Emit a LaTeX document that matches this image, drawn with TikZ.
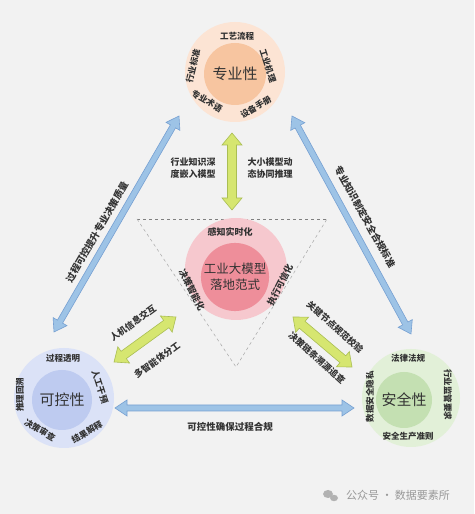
\documentclass[tikz,border=0pt]{standalone}
\usepackage{fontspec}
\setmainfont{Noto Sans CJK SC}
\usetikzlibrary{calc,positioning}

\definecolor{bg}{RGB}{242,242,242}
\definecolor{specout}{RGB}{252,228,212}
\definecolor{specin}{RGB}{247,197,160}
\definecolor{ctrlout}{RGB}{219,226,247}
\definecolor{ctrlin}{RGB}{190,203,240}
\definecolor{safeout}{RGB}{226,240,216}
\definecolor{safein}{RGB}{196,224,178}
\definecolor{coreout}{RGB}{246,200,206}
\definecolor{corein}{RGB}{238,142,154}
\definecolor{bluefill}{RGB}{157,195,230}
\definecolor{blueline}{RGB}{118,160,210}
\definecolor{greenfill}{RGB}{214,230,112}
\definecolor{greenline}{RGB}{170,190,84}
\definecolor{txt}{RGB}{51,51,51}

% block double arrow: [style]{from}{to}{half shaft}{half head}{head length}
\newcommand{\fatarrow}[6][]{%
  \coordinate (#2-#3-a) at ($(#2)!#6!(#3)$);
  \coordinate (#2-#3-b) at ($(#3)!#6!(#2)$);
  \draw[#1] (#2) -- ($(#2-#3-a)!#5!90:(#3)$) -- ($(#2-#3-a)!#4!90:(#3)$)
    -- ($(#2-#3-b)!#4!-90:(#2)$) -- ($(#2-#3-b)!#5!-90:(#2)$) -- (#3)
    -- ($(#2-#3-b)!#5!90:(#2)$) -- ($(#2-#3-b)!#4!90:(#2)$)
    -- ($(#2-#3-a)!#4!-90:(#3)$) -- ($(#2-#3-a)!#5!-90:(#3)$) -- cycle;}

\begin{document}
\begin{tikzpicture}[x=1pt, y=1pt,
    ring/.style={circle, inner sep=0pt},
    core/.style={circle, inner sep=0pt, text=txt, align=center, font=\fontsize{15}{18}\selectfont},
    tag/.style={text=txt, inner sep=0pt, font=\bfseries\fontsize{8.5}{10}\selectfont},
    note/.style={text=txt, inner sep=0pt, align=center, font=\bfseries\fontsize{9}{12}\selectfont},
    link/.style={text=txt, inner sep=0pt, font=\bfseries\fontsize{9.5}{11}\selectfont},
    bluearrow/.style={fill=bluefill, draw=blueline, line width=0.6pt, line join=miter},
    greenarrow/.style={fill=greenfill, draw=greenline, line width=0.6pt, line join=miter}]
    \fill[bg] (0,0) rectangle (474,514);
    \useasboundingbox (0,0) rectangle (474,514);

    % dashed triangle
    \coordinate (tl) at (137,295);
    \coordinate (tr) at (327,295);
    \coordinate (tb) at (236,147);
    \draw[gray, dashed, line width=0.6pt] (tl) -- (tr);
    \draw[gray!70, dashed, line width=0.5pt] (tl) -- (tb) -- (tr);

    % four circles
    \node[ring, fill=specout, minimum size=100pt] (spec) at (235,442) {};
    \node[core, fill=specin, minimum size=62pt] (specc) at (235,440) {专业性};
    \node[ring, fill=ctrlout, minimum size=100pt] (ctrl) at (64,116) {};
    \node[core, fill=ctrlin, minimum size=60pt] (ctrlc) at (62,114) {可控性};
    \node[ring, fill=safeout, minimum size=98pt] (safe) at (411,116) {};
    \node[core, fill=safein, minimum size=56pt] (safec) at (404,114) {安全性};
    \node[ring, fill=coreout, minimum size=102pt] (mid) at (236,245) {};
    \node[core, fill=corein, minimum size=64pt, font=\fontsize{12.5}{16}\selectfont] (midc) at (235,237) {工业大模型\\落地范式};

    % ring labels
    \node[tag] (s1) at (237,478) {工艺流程};
    \node[tag, rotate=-72] (s2) at (268,448) {工业机理};
    \node[tag, rotate=30] (s3) at (256,407) {设备手册};
    \node[tag, rotate=-30] (s4) at (207,413) {专业术语};
    \node[tag, rotate=76] (s5) at (193,448) {行业标准};

    \node[tag] (c1) at (63,156) {过程透明};
    \node[tag, rotate=-72] (c2) at (100,127) {人工干预};
    \node[tag, rotate=30] (c3) at (87,82) {结果解释};
    \node[tag, rotate=-30] (c4) at (40,84) {决策审查};
    \node[tag, rotate=90] (c5) at (20,119) {推理回溯};

    \node[tag] (a1) at (408,156) {法律法规};
    \node[tag, rotate=-90] (a2) at (448,119) {行业监管要求};
    \node[tag] (a3) at (408,78) {安全生产准则};
    \node[tag, rotate=90] (a4) at (370,117) {数据安全隐私};

    \node[tag, font=\bfseries\fontsize{9}{11}\selectfont] (m1) at (230,282) {感知实时化};
    \node[tag, font=\bfseries\fontsize{9}{11}\selectfont, rotate=63] (m2) at (280,229) {执行可信化};
    \node[tag, font=\bfseries\fontsize{9}{11}\selectfont, rotate=-63] (m3) at (192,224) {决策智能化};

    % blue arrows between the outer circles
    \coordinate (bl1) at (54,182);
    \coordinate (bl2) at (179,398);
    \coordinate (br1) at (292,398);
    \coordinate (br2) at (411,180);
    \coordinate (bb1) at (115,106);
    \coordinate (bb2) at (354,106);
    \fatarrow[bluearrow]{bl1}{bl2}{3pt}{8pt}{12pt}
    \fatarrow[bluearrow]{br1}{br2}{3pt}{8pt}{12pt}
    \fatarrow[bluearrow]{bb1}{bb2}{3pt}{8pt}{12pt}

    % green arrows towards the centre
    \coordinate (gv1) at (232,381);
    \coordinate (gv2) at (232,304);
    \coordinate (gl1) at (114,152);
    \coordinate (gl2) at (176,197);
    \coordinate (gr1) at (293,197);
    \coordinate (gr2) at (352,147);
    \fatarrow[greenarrow]{gv1}{gv2}{4.5pt}{10pt}{12pt}
    \fatarrow[greenarrow]{gl1}{gl2}{4.5pt}{10pt}{12pt}
    \fatarrow[greenarrow]{gr1}{gr2}{4.5pt}{10pt}{12pt}

    % arrow labels
    \node[link, rotate=60] (lab1) at (97,282) {过程可控提升专业决策质量};
    \node[link, rotate=-61] (lab2) at (365,297) {专业知识制定安全合规标准};
    \node[link] (lab3) at (230,87) {可控性确保过程合规};
    \node[note] (lab4) at (193,346) {行业知识深\\度嵌入模型};
    \node[note] (lab5) at (270,346) {大小模型动\\态协同推理};
    \node[note, rotate=36] (lab6) at (133,191) {人机信息交互};
    \node[note, rotate=36] (lab7) at (157,154) {多智能体分工};
    \node[note, rotate=-42] (lab8) at (335,187) {关键节点规范校验};
    \node[note, rotate=-42] (lab9) at (317,156) {决策链条溯源追查};

    % watermark
    \fill[gray!60] (328,20) ellipse (5pt and 4pt);
    \fill[gray!60] (334,16) ellipse (4pt and 3.2pt);
    \node[text=gray!80, inner sep=0pt, font=\fontsize{11}{13}\selectfont] (mark) at (398,19) {公众号 · 数据要素所};
\end{tikzpicture}
\end{document}
